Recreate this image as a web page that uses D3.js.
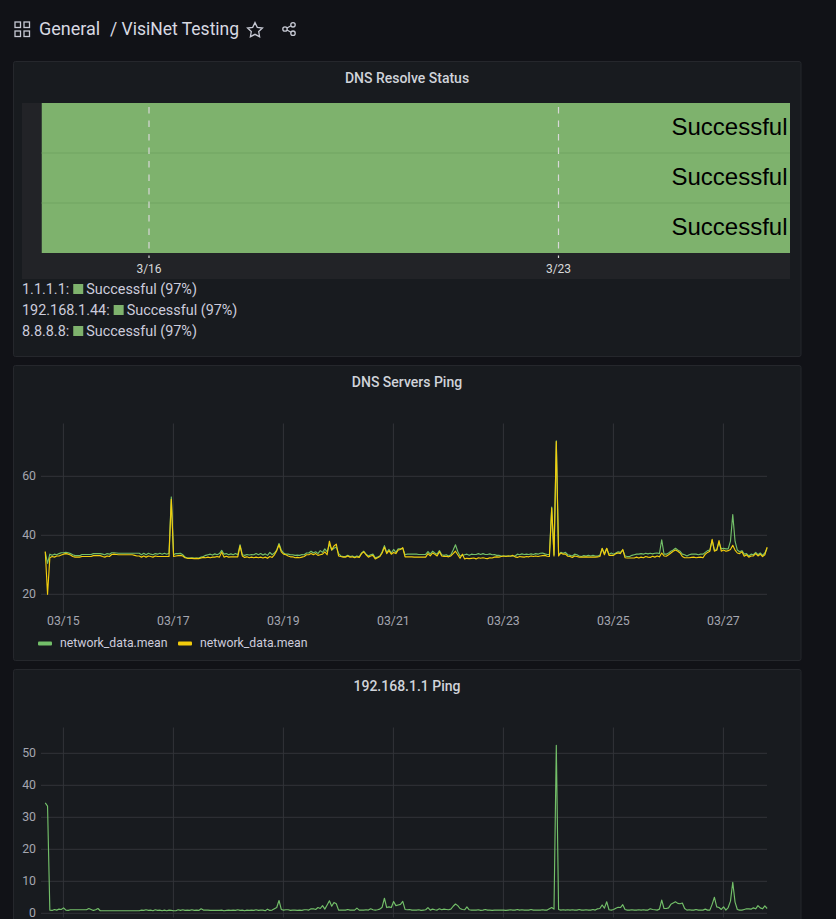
<!DOCTYPE html>
<html><head><meta charset="utf-8">
<script src="https://cdn.jsdelivr.net/npm/d3@7"></script>
<style>
html,body{margin:0;padding:0;background:#111217;overflow:hidden}
svg{display:block;font-family:Roboto,sans-serif}
.domain{display:none}
</style></head><body>
<svg id="c" width="836" height="919"></svg>
<script>
// ---------- data ----------
const statusRows = ["1.1.1.1","192.168.1.44","8.8.8.8"];
const statusLabel = "Successful";
const statusPercent = [97,97,97];
const statusStart = "2021-03-14T04:00:00Z";
const statusEnd = "2021-03-27T12:00:00Z";
const statusTicks = ["2021-03-16","2021-03-23"];
const dayTicks = ["2021-03-15","2021-03-17","2021-03-19","2021-03-21","2021-03-23","2021-03-25","2021-03-27"];
const seriesStart = "2021-03-14T16:05:00Z";
const ticksDns = [20,40,60];
const ticksGateway = [0,10,20,30,40,50];
const legendNames = ["network_data.mean","network_data.mean"];
const dnsA = [
34.3,30.5,33.6,33.2,33.6,33.4,33.8,34.1,34.1,34.2,
34.1,33.8,33.4,33.1,33.1,33.1,33.5,33.5,33.5,33.5,
33.5,33.8,33.8,33.8,33.8,33.6,33.4,33.8,33.6,34.1,
34.1,34,33.9,33.9,33.9,33.9,33.9,33.9,33.9,33.9,
33.9,33.9,33.4,33.9,33.4,33.9,33.6,33.4,33.8,33.6,
33.9,33.6,33.9,33.6,33.9,53,33.4,33.8,33.8,33.9,
33.4,32.6,32.3,32.3,32.4,32.3,32.3,32.3,32.6,32.8,
33.2,33.4,33.6,33.3,33.7,33.4,33.8,34.9,33.6,33.8,
33.4,33.7,33.4,33.8,33.4,36.8,33.4,33.2,33.5,33.3,
33.5,33.4,33.8,33.4,33.8,33.3,33.7,33.2,34.2,33.4,
34,35,37.2,35,34,33.6,33.6,33.4,33.4,33.2,
33.3,33.2,33.5,33.4,34,34,34.6,34,34.4,33.8,
34.8,34.2,35.4,34.4,37,35,35.6,36,33.8,33,
32.8,32.8,33.2,32.8,33,32.6,33,32.7,34,34.6,
33.6,33,33.4,33.6,32.4,32.6,33,34.4,36.5,34.2,
35.2,34,35.2,34.2,35.4,35.4,35.6,33.4,33.6,33.6,
33.6,33.6,33.6,33.5,33.5,33.5,33.5,34.5,33.6,34.6,
34,33.6,34.8,33.4,33.2,33.4,33,33.4,35,36.8,
34.5,33,33.2,33.4,33.6,33.2,33.6,33.5,33.5,33.8,
33.5,33.8,33.5,33.5,33.7,33.4,33.5,33.2,33.2,33,
33,33,33,33,33,33,33.6,33.4,33.7,33.5,
33.6,33.5,33.7,33.5,33.8,33.6,33.9,34,33.7,33.5,
33.5,49.6,33.4,72,33.4,34.2,33.9,34.2,33.4,33.2,
33,33.6,33.4,33,32.8,33.1,33,33.2,33,33.2,
33,33,33.2,35.5,33.8,35.5,33.6,34,33.6,34,
34.4,34.2,35,33,32.8,32.8,33.2,33.4,33.6,33.6,
33.8,33.6,33.9,33.7,33.9,33.7,33.9,34,33.8,38.5,
33.6,33.6,34,34.6,35,35.6,35,34.6,33.6,33.4,
33,33.4,33.6,33.6,33.6,33.4,33.6,33.6,34.2,34.8,
35,38.3,35,35,37.6,35.4,35.6,35.4,35.4,38,
47,38,35,34.4,34.8,33.6,33.8,33,33.6,33.4,
34.2,33.4,34,33.2,34,35.6];
const dnsB = [
34.5,20,32.4,32.8,32.6,33,33,33.3,33.6,33.8,
33.6,33.3,32.8,32.6,32.6,32.6,32.8,32.8,32.8,32.8,
32.8,33.1,33.1,33.1,33.1,32.8,32.6,33,32.8,33.5,
33.6,33.5,33.4,33.4,33.4,33.4,33.4,33.4,33.4,33.2,
33,33,32.6,33,32.6,33,32.8,32.6,33,32.8,
32.8,32.8,32.8,32.8,32.8,52.2,32.8,33,33.1,33.2,
33,32.4,32.2,32.2,32.2,32.1,32.2,32.1,32.3,32.5,
32.4,32.6,32.4,32.6,32.6,32.8,32.6,34.3,32.6,32.9,
32.6,32.7,32.7,32.7,32.7,36.4,33,32.5,32.7,32.4,
32.6,32.4,32.6,32.4,32.6,32.3,32.6,32.2,32.8,32.5,
33.4,34.8,36.8,34.4,33.6,33.4,33,32.7,32.7,32.4,
32.5,32.4,32.6,32.8,33.4,33.4,33.8,33.4,33.8,33.2,
33.4,33.6,34.4,33.4,38,35,36.4,37,33,32.8,
32.6,32.6,33,32.6,32.7,32.4,32.7,32.5,33.8,34.4,
33.4,32.6,33,33.2,32,32.4,32.8,34,36,33.8,
34.8,33.6,34.2,33.8,35,35.2,35.8,32.7,32.7,32.7,
32.7,32.6,32.6,32.6,32.6,32.6,32.6,33.8,33,34,
33.6,33,34.4,33,32.8,32.9,32.7,33,33.8,34.6,
33.4,32.2,33.6,32,32.2,32.1,32.2,32.3,32,32.4,
32.2,32.4,32.2,32.1,32.4,32.3,32.6,32.7,32.6,32.8,
33,32.8,33,32.9,33.2,32.7,32.5,32.8,32.7,32.6,
32.8,32.7,33,32.8,33,32.8,33,33.1,33.2,32.9,
32.8,49.2,33,71.8,33,34,33.6,33.6,32.9,32.8,
32.5,33,32.8,32.6,32.6,32.6,32.7,32.6,32.6,32.6,
32.6,32.7,32.8,35.6,33.4,35.6,33.2,33.2,33.2,33.8,
34,33.8,35.2,32.4,32.3,32.3,32.3,32.3,32.6,32.3,
32.6,32.4,32.8,32.6,32.5,32.9,32.6,33,32.7,34,
33,32.9,33.4,34,34.6,35,34.6,34,32.8,32.4,
32.4,32.4,32.5,32.6,32.4,32.5,32.6,32.4,33.6,34.2,
34.6,38.6,34.6,35,38.2,34.6,35,34.6,34.8,35.2,
36.6,35,34,33.8,34.4,32.9,33.4,32.6,33,33,
33.8,33,33.6,32.8,33.4,36];
const gateway = [
34.5,33.5,1,0.9,1.2,1,1.3,1.2,1.7,1,
0.9,1.1,1.1,1.1,1.1,1.1,1.1,1.1,1.1,1.5,
1.2,0.9,1.1,1.5,0.8,0.8,0.8,0.8,0.8,0.8,
0.8,0.8,0.8,0.8,0.8,0.8,0.8,0.8,0.8,0.8,
0.8,0.8,1,0.9,1.1,0.9,1,0.8,1.1,0.9,
1,0.8,1,0.8,1,0.9,0.8,0.8,1.1,0.9,
1.1,0.9,1,0.9,1.1,0.9,1,0.9,1.4,1,
1,1,0.9,0.9,0.9,0.9,0.9,1,0.8,0.9,
1,0.9,1,0.9,1.1,0.9,1,0.8,1,0.9,
1,0.9,1.1,0.9,1,1,0.8,1.3,0.9,1,
1.4,1.8,4,1.2,1,1.1,1.1,0.9,1,1,
0.9,1,0.9,1.1,1.1,1,1.4,1.4,1.2,1.8,
1.5,2.4,1.3,2.6,3.9,2.2,3.4,3,1,1,
1,1,1.2,1,1,1,1.6,1,1,1,
1.1,1,1.4,1.1,1,1.1,1.3,1.9,4.7,1.8,
2,1.8,3.7,2.4,2.6,2.8,3.7,1.2,1.1,1.2,
1,1,1,1.1,0.9,1,1.1,1.8,1,1.3,
1.1,1,1.4,1.1,1.3,1.2,1.1,1.3,2.2,2.9,
2.4,1.5,1.2,1.1,2,1.1,1,1,1,1.1,
0.9,1,1.2,1,1,0.9,1,1,1,1,
1,0.9,1,1.1,1,1,1.2,1,1.1,1,
1,1,1.2,1,1,1,1,1.1,1,1,
1.4,1.8,1.3,52.5,1.2,1,1.1,1,1.1,1,
1.1,1,1,1.2,1,1,1.1,1,1,1.2,
1,1.4,1.5,2.6,1.6,3.6,1.1,1,1.2,1.6,
1.9,1.8,2.7,1.2,1,1,1.1,1,1,1.1,
1,1.1,1,1,1.4,1.2,1.1,1,1.3,4.1,
1.5,1.5,1.7,2.8,3.2,3.6,3.1,3,3.2,1.5,
1,1.1,1,1,1.2,1,1,1,1.3,1,
1,2.8,5,2,1.8,1.2,2,1,1.8,3.8,
9.7,3.5,1.2,1,1,1.2,1.4,1.4,1.3,1.7,
1.4,2.4,1.7,1.4,2.3,1.5];
// ---------- drawing ----------
const svg = d3.select("#c");
const utc = s => new Date(s);
const grid = "#323439", tickColor = "#a4a6b0", textColor = "#ccccdc", green = "#73bf69", yellow = "#f2cc0c", statusGreen = "#7eb26d";

function panel(y,h,title){
  svg.append("rect").attr("x",13.5).attr("y",y+.5).attr("width",787.5).attr("height",h).attr("rx",2)
    .attr("fill","#181b1f").attr("stroke","#25272c");
  svg.append("text").attr("x",407).attr("y",y+22).attr("text-anchor","middle")
    .attr("font-size",14).attr("font-weight",500).attr("fill","#d0d3da").text(title);
}
// header
const hdr = svg.append("g").attr("fill","none").attr("stroke","#c7c9d4").attr("stroke-width",1.3);
[[15,22],[24,22],[15,31],[24,31]].forEach(p=>hdr.append("rect").attr("x",p[0]).attr("y",p[1]).attr("width",5.5).attr("height",5.5));
hdr.append("path").attr("d","M255 22.6l2.3 4.7 5.2.7-3.8 3.6.9 5.1-4.6-2.4-4.6 2.4.9-5.1-3.8-3.6 5.2-.7z");
hdr.append("circle").attr("cx",285).attr("cy",29).attr("r",2.2);
hdr.append("circle").attr("cx",293).attr("cy",24.8).attr("r",2.2);
hdr.append("circle").attr("cx",293).attr("cy",33.2).attr("r",2.2);
hdr.append("path").attr("d","M287 28l4-2.2M287 30l4 2.2");
svg.append("text").attr("x",39).attr("y",35).attr("font-size",18).attr("fill","#d8d9e2").text("General");
svg.append("text").attr("x",110).attr("y",35).attr("font-size",17.5).attr("fill","#d8d9e2").text("/ VisiNet Testing");

// status panel
panel(61,295,"DNS Resolve Status");
const sx = d3.scaleUtc().domain([utc("2021-03-16"),utc("2021-03-23")]).range([149,558.5]);
const sy = d3.scaleBand().domain(statusRows).range([103,253]);
svg.append("rect").attr("x",22).attr("y",103).attr("width",768).attr("height",176).attr("fill","#222327");
const clip = svg.append("defs").append("clipPath").attr("id","sc");
clip.append("rect").attr("x",22).attr("y",103).attr("width",768).attr("height",176);
const sg = svg.append("g").attr("clip-path","url(#sc)");
sg.selectAll("rect.s").data(statusRows).join("rect").attr("class","s")
  .attr("x",sx(utc(statusStart))).attr("y",d=>sy(d))
  .attr("width",sx(utc(statusEnd))-sx(utc(statusStart))).attr("height",sy.bandwidth()).attr("fill",statusGreen);
sg.selectAll("line.sep").data(statusRows.slice(1)).join("line").attr("class","sep")
  .attr("x1",sx(utc(statusStart))).attr("x2",790).attr("y1",d=>sy(d)).attr("y2",d=>sy(d))
  .attr("stroke","#76a866").attr("stroke-width",1.5);
sg.selectAll("text.lab").data(statusRows).join("text").attr("class","lab")
  .attr("x",787.5).attr("y",d=>sy(d)+sy.bandwidth()/2+6.5).attr("text-anchor","end")
  .attr("font-family","'Liberation Sans',Arial,sans-serif").attr("font-size",24).attr("fill","#000").text(statusLabel);
const sAxis = svg.append("g").attr("transform","translate(0,258)")
  .call(d3.axisBottom(sx).offset(0).tickValues(statusTicks.map(utc)).tickSizeInner(0).tickPadding(6).tickFormat(d3.utcFormat("%-m/%-d")));
sAxis.selectAll(".tick text").attr("fill","#d8d9da").attr("font-size",12).attr("font-family","Roboto,sans-serif");
sAxis.selectAll(".tick line").attr("y1",-151).attr("y2",0).attr("stroke","#d8d8d8").attr("stroke-dasharray","6.5 7").attr("stroke-width",1.2);
statusRows.forEach((r,i)=>{
  const t = svg.append("text").attr("x",22).attr("y",294+i*21).attr("font-size",14.4).attr("fill",textColor).text(r+":");
  const w = t.node().getComputedTextLength();
  svg.append("rect").attr("x",22+w+4).attr("y",284+i*21).attr("width",10).attr("height",10).attr("fill",statusGreen);
  svg.append("text").attr("x",22+w+17).attr("y",294+i*21).attr("font-size",14.4).attr("fill",textColor)
    .text(statusLabel+" ("+statusPercent[i]+"%)");
});

// time-series panels
const x = d3.scaleUtc().domain([utc(dayTicks[0]),utc(dayTicks[dayTicks.length-1])]).range([63.4,723.4]);
const timeAt = i => new Date(+utc(seriesStart)+i*3600e3);
function chart(top,bottomGrid,labelY,y,yTicks,series,showDates){
  const gy = svg.append("g").attr("transform","translate(41,0)")
    .call(d3.axisLeft(y).offset(0).tickValues(yTicks).tickSize(-726).tickPadding(5).tickFormat(d3.format("d")));
  gy.selectAll("line").attr("stroke",grid);
  gy.selectAll("text").attr("fill",tickColor).attr("font-size",12.3).attr("font-family","Roboto,sans-serif");
  const gx = svg.append("g").attr("transform","translate(0,"+bottomGrid+")")
    .call(d3.axisBottom(x).offset(0).tickValues(dayTicks.map(utc)).tickSize(-(bottomGrid-top)).tickPadding(labelY-bottomGrid).tickFormat(showDates?d3.utcFormat("%m/%d"):""));
  gx.selectAll("line").attr("stroke",grid);
  gx.selectAll("text").attr("fill",tickColor).attr("font-size",12.3).attr("font-family","Roboto,sans-serif");
  const line = d3.line().x((d,i)=>x(timeAt(i))).y(d=>y(d));
  series.forEach(s=>svg.append("path").datum(s.v).attr("d",line).attr("fill","none")
    .attr("stroke",s.c).attr("stroke-width",1.15).attr("stroke-linejoin","round"));
}
panel(365,295,"DNS Servers Ping");
chart(423.5,613,616,d3.scaleLinear().domain([20,60]).range([594.3,476.3]),ticksDns,[{v:dnsA,c:green},{v:dnsB,c:yellow}],true);
legendNames.forEach((n,i)=>{
  const lx = i?178:38;
  svg.append("rect").attr("x",lx).attr("y",641.5).attr("width",14).attr("height",4).attr("rx",1).attr("fill",i?yellow:green);
  svg.append("text").attr("x",lx+22).attr("y",647).attr("font-size",12.25).attr("fill",textColor).text(n);
});
panel(669,280,"192.168.1.1 Ping");
chart(727.5,917.5,1000,d3.scaleLinear().domain([0,50]).range([913.3,753.3]),ticksGateway,[{v:gateway,c:green}],false);
</script></body></html>
